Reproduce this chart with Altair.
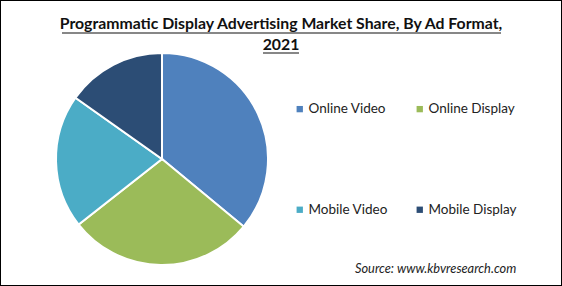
import altair as alt
import pandas as pd

formats = ["Online Video", "Online Display", "Mobile Video", "Mobile Display"]
shares = [36.0, 28.4, 20.4, 15.2]
colors = ["#4F81BD", "#9BBB59", "#4BACC6", "#2C4D75"]
title_lines = ["Programmatic Display Advertising Market Share, By Ad Format,", "2021"]
source_text = "Source:  www.kbvresearch.com"

df = pd.DataFrame({"format": formats, "share": shares, "order": list(range(len(formats)))})

W, H = 562, 286

pie = alt.Chart(df).mark_arc(stroke="white", strokeWidth=2).encode(
    theta=alt.Theta("share:Q", stack=True),
    order=alt.Order("order:Q"),
    color=alt.Color(
        "format:N",
        scale=alt.Scale(domain=formats, range=colors),
        legend=alt.Legend(
            title=None,
            orient="none",
            legendX=293,
            legendY=102,
            columns=2,
            direction="horizontal",
            gridAlign="all",
            symbolType="square",
            symbolSize=40,
            symbolStrokeWidth=0,
            labelFont="Lato",
            labelFontSize=13.5,
            labelColor="#222222",
            labelOffset=2,
            rowPadding=86,
            columnPadding=16,
        ),
    ),
    x=alt.value(162),
    y=alt.value(159),
    radius=alt.value(106),
)

t1 = alt.Chart(df.head(1)).mark_text(
    text=title_lines[0], font="Lato", fontSize=15.8, fontWeight="bold", color="#111111",
    align="center", baseline="alphabetic"
).encode(x=alt.value(281), y=alt.value(29))
t2 = alt.Chart(df.head(1)).mark_text(
    text=title_lines[1], font="Lato", fontSize=15.8, fontWeight="bold", color="#111111",
    align="center", baseline="alphabetic"
).encode(x=alt.value(281), y=alt.value(50))
u1 = alt.Chart(df.head(1)).mark_rule(color="#111111", strokeWidth=1.2).encode(
    x=alt.value(62), x2=alt.value(501), y=alt.value(33))
u2 = alt.Chart(df.head(1)).mark_rule(color="#111111", strokeWidth=1.2).encode(
    x=alt.value(263), x2=alt.value(299), y=alt.value(53))
src = alt.Chart(df.head(1)).mark_text(
    text=source_text, font="Lato", fontSize=12.8, fontStyle="italic", color="#222222",
    align="left", baseline="middle"
).encode(x=alt.value(355), y=alt.value(269))

chart = alt.layer(pie, t1, t2, u1, u2, src).properties(
    width=W, height=H, padding=0, background="white"
).configure_view(stroke="black", strokeWidth=2)

chart.save("out.html", embed_options={"renderer": "svg", "actions": False})
